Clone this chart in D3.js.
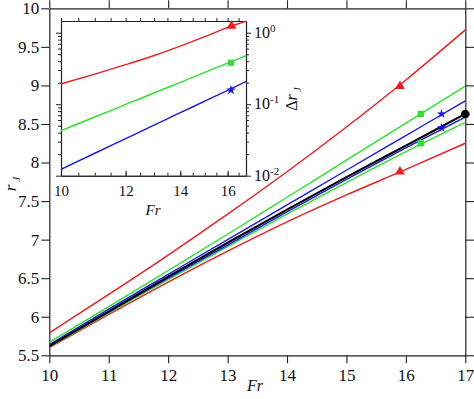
<!DOCTYPE html>
<html>
<head>
<meta charset="utf-8">
<script src="https://cdn.jsdelivr.net/npm/d3@7"></script>
<style>
  body { margin: 0; background: #fff; }
  svg, svg text { font-family: "Liberation Serif", "Times New Roman", serif; }
  svg { display: block; }
</style>
</head>
<body>
<div id="chart"></div>
<script>
// main panel: r_J against Fr
const frMain = [10, 11, 12, 13, 14, 15, 16, 17]
const redUpper = [5.79, 6.29, 6.80, 7.33, 7.88, 8.46, 9.07, 9.72]
const redLower = [5.60, 6.03, 6.45, 6.85, 7.23, 7.58, 7.91, 8.25]
const greenUpper = [5.67, 6.13, 6.60, 7.07, 7.55, 8.03, 8.51, 8.99]
const greenLower = [5.61, 6.05, 6.48, 6.91, 7.33, 7.74, 8.14, 8.52]
const blueUpper = [5.64, 6.10, 6.55, 7.00, 7.45, 7.90, 8.35, 8.80]
const blueLower = [5.62, 6.06, 6.50, 6.93, 7.36, 7.78, 8.19, 8.59]
const blackLine = [5.62, 6.07, 6.52, 6.96, 7.39, 7.81, 8.22, 8.63]

// markers on the main panel [Fr, r_J]
const redMarkers = [[15.9, 8.99], [15.9, 7.88]]
const greenMarkers = [[16.25, 8.63], [16.25, 8.25]]
const blueMarkers = [[16.6, 8.63], [16.6, 8.45]]
const blackMarker = [[17, 8.63]]

const xTicks = [10, 11, 12, 13, 14, 15, 16, 17]
const yTicks = [5.5, 6, 6.5, 7, 7.5, 8, 8.5, 9, 9.5, 10]

// inset: delta r_J against Fr (log-log)
const frInset = [10, 11, 12, 13, 14, 15, 16, 16.85]
const redDelta = [0.192, 0.263, 0.357, 0.480, 0.650, 0.879, 1.186, 1.45]
const greenDelta = [0.0426, 0.0662, 0.0991, 0.1435, 0.2023, 0.2784, 0.375, 0.476]
const blueDelta = [0.0123, 0.0206, 0.0330, 0.0509, 0.0760, 0.1103, 0.1564, 0.207]

const insetRedMarker = [[16.17, 1.24]]
const insetGreenMarker = [[16.15, 0.38]]
const insetBlueMarker = [[16.15, 0.158]]

const insetXTicks = [10, 12, 14, 16]
const insetYTicks = [0.01, 0.1, 1]
const insetYExponents = ["-2", "-1", "0"]

const colors = { red: "#ee1c1c", green: "#2ee02e", blue: "#1818e8", black: "#000" }
const serif = "'Liberation Serif', 'Times New Roman', serif"

function drawChart() {
    const dimensions = {
        width: 474,
        height: 399,
        margin: { top: 8.3, right: 8.7, bottom: 43.7, left: 49.3 },
    }
    dimensions.boundedWidth = dimensions.width - dimensions.margin.left - dimensions.margin.right
    dimensions.boundedHeight = dimensions.height - dimensions.margin.top - dimensions.margin.bottom

    const wrapper = d3.select("#chart")
        .append("svg")
        .attr("width", dimensions.width)
        .attr("height", dimensions.height)

    const bounds = wrapper.append("g")
        .attr("transform", `translate(${dimensions.margin.left},${dimensions.margin.top})`)

    const xScale = d3.scaleLinear()
        .domain([10, 17])
        .range([0, dimensions.boundedWidth])
    const yScale = d3.scaleLinear()
        .domain([5.5, 10])
        .range([dimensions.boundedHeight, 0])

    const styleAxis = g => {
        g.attr("font-family", serif)
        g.select(".domain").attr("stroke", "#222").attr("stroke-width", 1.2)
        g.selectAll(".tick line").attr("stroke", "#222").attr("stroke-width", 1.1)
        g.selectAll(".tick text").attr("fill", "#111").style("font-size", "17px").style("font-family", serif)
    }

    bounds.append("g")
        .attr("transform", `translate(0,${dimensions.boundedHeight})`)
        .call(d3.axisBottom(xScale).tickValues(xTicks).tickSize(8).tickSizeOuter(0).tickPadding(6).tickFormat(d3.format("d")))
        .call(styleAxis)
    bounds.append("g")
        .call(d3.axisTop(xScale).tickValues(xTicks).tickSize(8).tickSizeOuter(0).tickFormat(""))
        .call(styleAxis)
    bounds.append("g")
        .call(d3.axisLeft(yScale).tickValues(yTicks).tickSize(8).tickSizeOuter(0).tickPadding(2).tickFormat(d => d % 1 === 0 ? d3.format("d")(d) : d3.format(".1f")(d)))
        .call(styleAxis)
    bounds.append("g")
        .attr("transform", `translate(${dimensions.boundedWidth},0)`)
        .call(d3.axisRight(yScale).tickValues(yTicks).tickSize(9).tickSizeOuter(0).tickFormat(""))
        .call(styleAxis)

    const lineGen = d3.line()
        .x(d => xScale(d[0]))
        .y(d => yScale(d[1]))
        .curve(d3.curveMonotoneX)

    const mainSeries = [
        { values: redUpper, color: colors.red, w: 1.4 },
        { values: redLower, color: colors.red, w: 1.4 },
        { values: greenUpper, color: colors.green, w: 1.4 },
        { values: greenLower, color: colors.green, w: 1.4 },
        { values: blueUpper, color: colors.blue, w: 1.4 },
        { values: blueLower, color: colors.blue, w: 1.4 },
        { values: blackLine, color: colors.black, w: 2.1 },
    ]

    bounds.selectAll(".series")
        .data(mainSeries)
        .join("path")
        .attr("class", "series")
        .attr("fill", "none")
        .attr("stroke", d => d.color)
        .attr("stroke-width", d => d.w)
        .attr("d", d => lineGen(frMain.map((f, i) => [f, d.values[i]])))

    const drawMarkers = (g, data, type, size, color, xs, ys) => {
        g.selectAll(null)
            .data(data)
            .join("path")
            .attr("transform", d => `translate(${xs(d[0])},${ys(d[1])})`)
            .attr("d", d3.symbol().type(type).size(size))
            .attr("fill", color)
    }

    drawMarkers(bounds, redMarkers, d3.symbolTriangle, 42, colors.red, xScale, yScale)
    drawMarkers(bounds, greenMarkers, d3.symbolSquare, 40, colors.green, xScale, yScale)
    drawMarkers(bounds, blueMarkers, d3.symbolStar, 28, colors.blue, xScale, yScale)
    bounds.selectAll(".dot")
        .data(blackMarker)
        .join("circle")
        .attr("class", "dot")
        .attr("cx", d => xScale(d[0]))
        .attr("cy", d => yScale(d[1]))
        .attr("r", 4.3)
        .attr("fill", "#000")

    // axis titles
    wrapper.append("text")
        .attr("x", 255)
        .attr("y", 391)
        .attr("text-anchor", "middle")
        .style("font-size", "16px")
        .style("font-style", "italic")
        .attr("fill", "#111")
        .text("Fr")

    const yTitle = wrapper.append("text")
        .attr("transform", "translate(16,184) rotate(-90)")
        .attr("text-anchor", "middle")
        .style("font-size", "17px")
        .style("font-style", "italic")
        .attr("fill", "#111")
    yTitle.append("tspan").text("r")
    yTitle.append("tspan").attr("dy", 4).style("font-size", "11px").text(" J")

    // inset
    const inset = { left: 61, top: 21, width: 185, height: 154.7 }
    const ig = wrapper.append("g")
        .attr("transform", `translate(${inset.left},${inset.top})`)

    ig.append("rect")
        .attr("width", inset.width)
        .attr("height", inset.height)
        .attr("fill", "#fff")

    const ixScale = d3.scaleLog()
        .domain([10, 16.85])
        .range([0, inset.width])
    const iyScale = d3.scaleLog()
        .domain([0.01, 1.457])
        .range([inset.height, 0])

    const styleInset = g => {
        g.attr("font-family", serif)
        g.select(".domain").attr("stroke", "#222").attr("stroke-width", 1.1)
        g.selectAll(".tick line").attr("stroke", "#222").attr("stroke-width", 1)
        g.selectAll(".tick text").attr("fill", "#111").style("font-size", "15px").style("font-family", serif)
    }

    const ixMinor = d3.range(10, 16.85, 0.5)
    const iyMinor = [0.02, 0.03, 0.04, 0.05, 0.06, 0.07, 0.08, 0.09, 0.2, 0.3, 0.4, 0.5, 0.6, 0.7, 0.8, 0.9]

    ig.append("g")
        .attr("transform", `translate(0,${inset.height})`)
        .call(d3.axisBottom(ixScale).tickValues(ixMinor).tickSize(-3).tickSizeOuter(0).tickFormat(""))
        .call(styleInset)
    ig.append("g")
        .attr("transform", `translate(0,${inset.height})`)
        .call(d3.axisBottom(ixScale).tickValues(insetXTicks).tickSize(-5).tickSizeOuter(0).tickPadding(10).tickFormat(d3.format("d")))
        .call(styleInset)
    ig.append("g")
        .call(d3.axisTop(ixScale).tickValues(ixMinor).tickSize(3).tickSizeOuter(0).tickFormat(""))
        .call(styleInset)
    ig.append("g")
        .call(d3.axisLeft(iyScale).tickValues(iyMinor).tickSize(3).tickSizeOuter(0).tickFormat(""))
        .call(styleInset)
    ig.append("g")
        .call(d3.axisLeft(iyScale).tickValues(insetYTicks).tickSize(5).tickSizeOuter(0).tickFormat(""))
        .call(styleInset)
    ig.append("g")
        .attr("transform", `translate(${inset.width},0)`)
        .call(d3.axisRight(iyScale).tickValues(iyMinor).tickSize(3).tickSizeOuter(0).tickFormat(""))
        .call(styleInset)
    ig.append("g")
        .attr("transform", `translate(${inset.width},0)`)
        .call(d3.axisRight(iyScale).tickValues(insetYTicks).tickSize(5).tickSizeOuter(0).tickFormat(""))
        .call(styleInset)

    // log tick labels 10^n
    const yLab = ig.selectAll(".ylab")
        .data(insetYTicks)
        .join("text")
        .attr("class", "ylab")
        .attr("x", inset.width + 8)
        .attr("y", d => iyScale(d) + 5)
        .attr("fill", "#111")
        .style("font-size", "16px")
    yLab.append("tspan").text("10")
    yLab.append("tspan")
        .attr("dy", -6)
        .style("font-size", "11px")
        .text((d, i) => insetYExponents[i])

    ig.append("clipPath")
        .attr("id", "insetClip")
        .append("rect")
        .attr("width", inset.width)
        .attr("height", inset.height)

    const iLine = d3.line()
        .x(d => ixScale(d[0]))
        .y(d => iyScale(d[1]))
        .curve(d3.curveMonotoneX)

    const insetSeries = [
        { values: redDelta, color: colors.red },
        { values: greenDelta, color: colors.green },
        { values: blueDelta, color: colors.blue },
    ]

    ig.append("g")
        .attr("clip-path", "url(#insetClip)")
        .selectAll("path")
        .data(insetSeries)
        .join("path")
        .attr("fill", "none")
        .attr("stroke", d => d.color)
        .attr("stroke-width", 1.4)
        .attr("d", d => iLine(frInset.map((f, i) => [f, d.values[i]])))

    drawMarkers(ig, insetRedMarker, d3.symbolTriangle, 42, colors.red, ixScale, iyScale)
    drawMarkers(ig, insetGreenMarker, d3.symbolSquare, 38, colors.green, ixScale, iyScale)
    drawMarkers(ig, insetBlueMarker, d3.symbolStar, 30, colors.blue, ixScale, iyScale)

    wrapper.append("text")
        .attr("x", 153)
        .attr("y", 215)
        .attr("text-anchor", "middle")
        .style("font-size", "15px")
        .style("font-style", "italic")
        .attr("fill", "#111")
        .text("Fr")

    const dTitle = wrapper.append("text")
        .attr("transform", "translate(297,99) rotate(-90)")
        .attr("text-anchor", "middle")
        .style("font-size", "16px")
        .attr("fill", "#111")
    dTitle.append("tspan").text("Δ")
    dTitle.append("tspan").style("font-style", "italic").text("r")
    dTitle.append("tspan").attr("dy", 4).style("font-size", "10px").style("font-style", "italic").text(" J")
}

drawChart()
</script>
</body>
</html>
